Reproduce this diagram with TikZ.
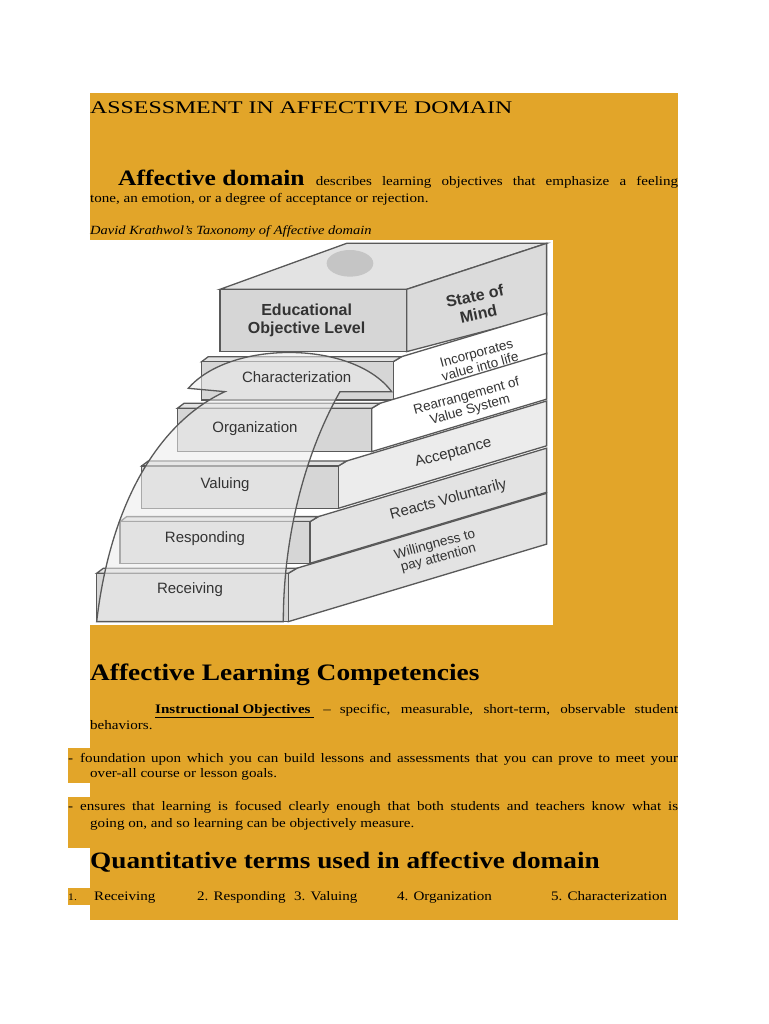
\documentclass[tikz,border=0pt]{standalone}
\usepackage{fontspec}
\setmainfont{Liberation Serif}[FakeStretch=1.16]
\newfontfamily\titlefont{Liberation Serif}[FakeStretch=1.34]
\newfontfamily\arial{Liberation Sans}
\definecolor{org}{HTML}{E2A529}
\newcommand\drawstep[5]{%
 \pgfmathsetmacro\ya{#3-15-0.3*(1370-#2-25)}%
 \pgfmathsetmacro\yb{#4-0.3*(1370-#2)}%
 \draw[stp,fill=#5] (#2,#3) -- (#2+25,#3-15) -- (1370,\ya) -- (1370,\yb) -- (#2,#4) -- cycle;
 \draw[stp,fill=gray!22] (#1,#3) -- (#1+20,#3-15) -- (#2+25,#3-15) -- (#2,#3) -- cycle;
 \draw[stp,fill=gray!32] (#1,#3) rectangle (#2,#4);
}
\begin{document}
\begin{tikzpicture}[x=1pt,y=-1pt,
 stp/.style={draw=gray!70!black,line width=1.3pt},
 lbl/.style={font=\arial\fontsize{15}{16}\selectfont,text=black!80,align=center},
 side/.style={lbl,rotate=15,inner sep=0pt},
 body/.style={anchor=base west,inner sep=0pt,font=\fontsize{13}{15}\selectfont},
 head/.style={anchor=base west,inner sep=0pt,font=\bfseries\fontsize{23.6}{26}\selectfont}]
\useasboundingbox (0,0) rectangle (768,1024);
\fill[white] (0,0) rectangle (768,1024);
\fill[org] (90,93) rectangle (678,920);
\fill[org] (68,748) rectangle (90,783);
\fill[org] (68,797) rectangle (90,848);
\fill[org] (68,888) rectangle (90,905);
\node[anchor=base west,inner sep=0pt,font=\titlefont\fontsize{17.8}{19}\selectfont] (title) at (90,114) {ASSESSMENT IN AFFECTIVE DOMAIN};
\node[body] (p1) at (118,186) {\makebox[560pt][s]{\mbox{\bfseries\fontsize{22}{24}\selectfont Affective domain}\hspace{1pt} describes learning objectives that emphasize a feeling}};
\node[body] (p2) at (90,203) {tone, an emotion, or a degree of acceptance or rejection.};
\node[body,font=\itshape\fontsize{12.5}{15}\selectfont] (cap) at (90,235) {David Krathwol's Taxonomy of Affective domain};
\fill[white] (90,240) rectangle (553,625);
\begin{scope}[shift={(90pt,-240pt)},x=0.3333pt,y=-0.3333pt]
 \draw[stp,fill=gray!22] (390,148) -- (770,10) -- (1370,10) -- (950,148) -- cycle;
 \fill[gray!60,opacity=0.6] (780,70) ellipse (70 and 40);
 \draw[stp,fill=gray!28] (950,148) -- (1370,10) -- (1370,225) -- (950,335) -- cycle;
 \draw[stp,fill=gray!32] (390,148) rectangle (950,335);
 \drawstep{335}{910}{365}{480}{white}
 \drawstep{262}{845}{505}{635}{white}
 \drawstep{155}{745}{678}{805}{gray!15}
 \drawstep{90}{660}{845}{970}{gray!22}
 \drawstep{20}{595}{1000}{1145}{gray!22}
 \draw[stp,fill=gray!15,fill opacity=0.55] (20,1145) .. controls (60,800) and (200,550) .. (405,455) -- (295,445) .. controls (420,300) and (790,300) .. (905,455) -- (750,455) .. controls (640,650) and (580,900) .. (580,1145) -- cycle;
 \node[lbl,font=\arial\bfseries\fontsize{16}{18}\selectfont] (edu) at (650,240) {Educational\\Objective Level};
 \node[lbl,font=\arial\bfseries\fontsize{16}{18}\selectfont,rotate=12] (som) at (1160,195) {State of\\Mind};
 \node[lbl] (l5) at (620,410) {Characterization};
 \node[lbl] (l4) at (495,565) {Organization};
 \node[lbl] (l3) at (405,735) {Valuing};
 \node[lbl] (l2) at (345,895) {Responding};
 \node[lbl] (l1) at (300,1050) {Receiving};
 \node[side,font=\arial\fontsize{13.5}{14}\selectfont] (s5) at (1165,360) {Incorporates\\value into life};
 \node[side,font=\arial\fontsize{13.5}{14}\selectfont] (s4) at (1135,490) {Rearrangement of\\Value System};
 \node[side] (s3) at (1090,640) {Acceptance};
 \node[side] (s2) at (1075,780) {Reacts Voluntarily};
 \node[side,font=\arial\fontsize{13.5}{14}\selectfont] (s1) at (1040,935) {Willingness to\\pay attention};
\end{scope}
\node[head] (h1) at (90,680) {Affective Learning Competencies};
\node[body] (i1) at (155,713) {\makebox[523pt][s]{\bfseries\underline{Instructional Objectives }\mdseries{} -- specific, measurable, short-term, observable student}};
\node[body] (i2) at (90,729) {behaviors.};
\node[body] (f0) at (68,762) {-};
\node[body] (f1) at (80,762) {\makebox[598pt][s]{foundation upon which you can build lessons and assessments that you can prove to meet your}};
\node[body] (f2) at (90,777) {over-all course or lesson goals.};
\node[body] (e0) at (68,810) {-};
\node[body] (e1) at (80,810) {\makebox[598pt][s]{ensures that learning is focused clearly enough that both students and teachers know what is}};
\node[body] (e2) at (90,827) {going on, and so learning can be objectively measure.};
\node[head,font=\bfseries\fontsize{23.5}{26}\selectfont] (h2) at (90,868) {Quantitative terms used in affective domain};
\node[body,font=\fontsize{10}{12}\selectfont] (n1) at (68,900) {1.};
\node[body] (t1) at (94,900) {Receiving};
\node[body] (t2) at (197,900) {2. Responding};
\node[body] (t3) at (294,900) {3. Valuing};
\node[body] (t4) at (397,900) {4. Organization};
\node[body] (t5) at (551,900) {5. Characterization};
\end{tikzpicture}
\end{document}
